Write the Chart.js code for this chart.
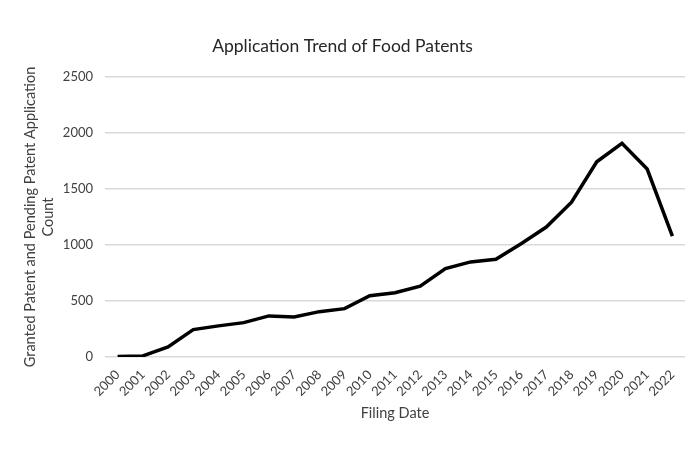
<!DOCTYPE html>
<html>
<head>
<meta charset="utf-8">
<script src="https://cdn.jsdelivr.net/npm/chart.js@4.4.0/dist/chart.umd.min.js"></script>
<style>
    html, body { margin: 0; padding: 0; background: #fff; }
    #wrap { width: 700px; height: 466px; }
</style>
</head>
<body>
<div id="wrap"><canvas id="trendChart" width="700" height="466"></canvas></div>
<script>
// Application trend of food patents
const years = ['2000', '2001', '2002', '2003', '2004', '2005', '2006', '2007', '2008', '2009', '2010',
    '2011', '2012', '2013', '2014', '2015', '2016', '2017', '2018', '2019', '2020', '2021', '2022'];
const patentCounts = [5, 10, 90, 245, 278, 307, 367, 358, 405, 432, 547,
    574, 633, 790, 849, 873, 1012, 1160, 1382, 1743, 1908, 1678, 1080];
const yTicks = [0, 500, 1000, 1500, 2000, 2500];

const fontFamily = 'Lato, "Open Sans", sans-serif';
const textColor = '#404040';

document.addEventListener('DOMContentLoaded', function() {
    const ctx = document.getElementById('trendChart');

    new Chart(ctx, {
        type: 'line',
        data: {
            labels: years,
            datasets: [{
                label: 'Count',
                data: patentCounts,
                borderColor: '#000000',
                borderWidth: 3.5,
                pointRadius: 0,
                tension: 0,
                fill: false
            }]
        },
        options: {
            responsive: false,
            animation: false,
            layout: {
                padding: { left: 0, right: 15, top: 0, bottom: 0 }
            },
            plugins: {
                legend: { display: false },
                tooltip: { enabled: false },
                title: {
                    display: true,
                    text: 'Application Trend of Food Patents',
                    color: '#262626',
                    font: { family: fontFamily, size: 17.5, weight: 'normal' },
                    padding: { top: 36, bottom: 20 }
                }
            },
            scales: {
                x: {
                    offset: true,
                    grid: { display: false },
                    border: { display: false },
                    ticks: {
                        color: textColor,
                        font: { family: fontFamily, size: 13 },
                        minRotation: 45,
                        maxRotation: 45,
                        autoSkip: false,
                        padding: 2
                    },
                    title: {
                        display: true,
                        text: 'Filing Date',
                        color: textColor,
                        font: { family: fontFamily, size: 14.5 },
                        padding: { top: 4, bottom: 44 }
                    },
                    afterFit: function(scale) {
                        scale.height = 109;
                    }
                },
                y: {
                    min: 0,
                    max: 2500,
                    afterBuildTicks: function(scale) {
                        scale.ticks = yTicks.map(v => ({ value: v }));
                    },
                    grid: {
                        color: '#d9d9d9',
                        lineWidth: 1.5,
                        drawTicks: false
                    },
                    border: { display: false },
                    ticks: {
                        color: textColor,
                        font: { family: fontFamily, size: 13 },
                        padding: 12,
                        callback: function(value) {
                            return String(value);
                        }
                    },
                    title: {
                        display: true,
                        text: ['Granted Patent and Pending Patent Application', 'Count'],
                        color: textColor,
                        font: { family: fontFamily, size: 14.5 },
                        padding: { top: 22, bottom: 0 }
                    },
                    afterFit: function(scale) {
                        scale.width = 105;
                    }
                }
            }
        }
    });
});
</script>
</body>
</html>
